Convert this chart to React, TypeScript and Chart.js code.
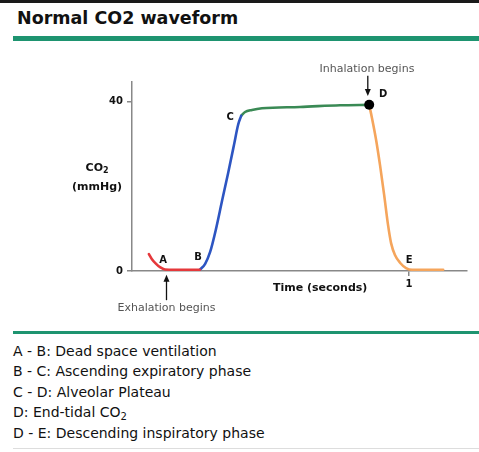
import React, { useEffect, useRef } from "react";
import { Chart, registerables } from "chart.js";

Chart.register(...registerables);

// time (s) and CO2 (mmHg), one pair of arrays per coloured phase
const deadSpaceTime = [0.061, 0.072, 0.087, 0.101, 0.119, 0.155, 0.245];
const deadSpaceCo2 = [4.0, 2.8, 1.7, 0.9, 0.35, 0.3, 0.3];

const expiratoryTime = [0.245, 0.264, 0.282, 0.303, 0.325, 0.347, 0.368, 0.383, 0.394];
const expiratoryCo2 = [0.3, 1.7, 4.5, 9.9, 16.6, 23.2, 29.8, 34.6, 36.7];

const plateauTime = [0.394, 0.408, 0.433, 0.469, 0.606, 0.751, 0.856];
const plateauCo2 = [36.7, 37.6, 38.1, 38.5, 38.8, 39.2, 39.3];

const inspiratoryTime = [0.856, 0.866, 0.881, 0.895, 0.91, 0.924, 0.935, 0.949, 0.968, 0.989, 1.011, 1.123];
const inspiratoryCo2 = [39.3, 36.2, 31.0, 25.1, 18.0, 10.9, 6.6, 3.8, 1.9, 0.7, 0.3, 0.3];

const endTidalTime = [0.856];
const endTidalCo2 = [39.3];

const yTickValues = [0, 40];
const xTickValues = [1];

const pointLetters = ["A", "B", "C", "D", "E"];
const letterTime = [0.112, 0.238, 0.354, 0.906, 1.0];
const letterCo2 = [2.6, 3.1, 36.4, 41.7, 2.4];

const legendLines = [
  "A - B: Dead space ventilation",
  "B - C: Ascending expiratory phase",
  "C - D: Alveolar Plateau",
  "D: End-tidal CO2",
  "D - E: Descending inspiratory phase",
];

const FONT = "'DejaVu Sans', Verdana, sans-serif";
const GREEN_BAR = "#1e9470";

const toPoints = (xs: number[], ys: number[]) => xs.map((x, i) => ({ x, y: ys[i] }));

const phase = (xs: number[], ys: number[], color: string) => ({
  data: toPoints(xs, ys),
  borderColor: color,
  borderWidth: 2.6,
  borderCapStyle: "round" as const,
  pointRadius: 0,
  cubicInterpolationMode: "monotone" as const,
  fill: false,
});

function arrow(ctx: CanvasRenderingContext2D, x: number, y0: number, y1: number) {
  const dir = y1 > y0 ? 1 : -1;
  ctx.beginPath();
  ctx.moveTo(x, y0);
  ctx.lineTo(x, y1 - dir * 5);
  ctx.stroke();
  ctx.beginPath();
  ctx.moveTo(x, y1);
  ctx.lineTo(x - 3, y1 - dir * 7);
  ctx.lineTo(x + 3, y1 - dir * 7);
  ctx.closePath();
  ctx.fill();
}

const waveformNotes = {
  id: "waveformNotes",
  afterDraw(chart: any) {
    const { ctx } = chart;
    const sx = chart.scales.x;
    const sy = chart.scales.y;
    const px = (t: number) => sx.getPixelForValue(t);
    const py = (v: number) => sy.getPixelForValue(v);
    ctx.save();
    ctx.textAlign = "center";
    ctx.textBaseline = "middle";
    ctx.fillStyle = "#111";
    ctx.font = "bold 10px " + FONT;
    pointLetters.forEach((l, i) => ctx.fillText(l, px(letterTime[i]), py(letterCo2[i])));
    ctx.font = "bold 11px " + FONT;
    ctx.fillText("Time (seconds)", px(0.679), py(-4.0));

    // y axis title, CO2 with a subscript
    const cx = px(-0.126);
    const wCO = ctx.measureText("CO").width;
    ctx.font = "bold 8px " + FONT;
    const w2 = ctx.measureText("2").width;
    ctx.textAlign = "left";
    ctx.font = "bold 11px " + FONT;
    const startX = cx - (wCO + w2) / 2;
    ctx.fillText("CO", startX, py(24.4));
    ctx.font = "bold 8px " + FONT;
    ctx.fillText("2", startX + wCO, py(24.4) + 3);
    ctx.textAlign = "center";
    ctx.font = "bold 11px " + FONT;
    ctx.fillText("(mmHg)", cx, py(19.9));

    ctx.font = "11px " + FONT;
    ctx.fillStyle = "#555";
    ctx.fillText("Inhalation begins", px(0.848), py(47.8));
    ctx.fillText("Exhalation begins", px(0.1245), py(-8.8));

    ctx.strokeStyle = "#111";
    ctx.fillStyle = "#111";
    ctx.lineWidth = 1.3;
    arrow(ctx, px(0.851), py(46.2), py(41.4));
    arrow(ctx, px(0.1245), py(-6.9), py(-0.9));
    ctx.restore();
  },
};

const CapnogramChart: React.FC = () => {
  const canvasRef = useRef<HTMLCanvasElement>(null);

  useEffect(() => {
    if (!canvasRef.current) return;
    const chart = new Chart(canvasRef.current, {
      type: "line",
      data: {
        datasets: [
          {
            data: toPoints(endTidalTime, endTidalCo2),
            showLine: false,
            pointRadius: 5,
            pointBackgroundColor: "#000",
            pointBorderWidth: 0,
          },
          phase(deadSpaceTime, deadSpaceCo2, "#e5383b"),
          phase(expiratoryTime, expiratoryCo2, "#2d55c2"),
          phase(plateauTime, plateauCo2, "#3a8a55"),
          phase(inspiratoryTime, inspiratoryCo2, "#f5a55c"),
        ] as any,
      },
      options: {
        animation: false,
        responsive: false,
        maintainAspectRatio: false,
        layout: { padding: { left: 0, top: 32, right: 12, bottom: 19 } },
        plugins: { legend: { display: false }, tooltip: { enabled: false } },
        scales: {
          x: {
            type: "linear",
            min: 0,
            max: 1.209,
            afterBuildTicks: (s: any) => {
              s.ticks = xTickValues.map((value) => ({ value }));
            },
            afterFit: (s: any) => {
              s.height = 30;
            },
            grid: { drawOnChartArea: false, tickLength: 5, color: "#888", lineWidth: 1.5 },
            border: { color: "#888", width: 1.5 },
            ticks: { color: "#111", padding: 2, font: { family: FONT, size: 10, weight: "bold" } },
          },
          y: {
            type: "linear",
            min: 0,
            max: 44.7,
            afterBuildTicks: (s: any) => {
              s.ticks = yTickValues.map((value) => ({ value }));
            },
            afterFit: (s: any) => {
              s.width = 132;
            },
            grid: { drawOnChartArea: false, tickLength: 5, color: "#888", lineWidth: 1.5 },
            border: { color: "#888", width: 1.5 },
            ticks: { color: "#111", padding: 4, font: { family: FONT, size: 10, weight: "bold" } },
          },
        },
      },
      plugins: [waveformNotes],
    });
    return () => {
      chart.destroy();
    };
  }, []);

  return (
    <canvas
      ref={canvasRef}
      width={479}
      height={270}
      style={{ position: "absolute", left: 0, top: 50, width: 479, height: 270 }}
    />
  );
};

export default function App() {
  return (
    <div
      style={{
        position: "absolute",
        left: 0,
        top: 0,
        width: 479,
        height: 452,
        overflow: "hidden",
        background: "#fff",
        fontFamily: FONT,
        color: "#111",
      }}
    >
      <div style={{ position: "absolute", left: 0, top: 0, width: 479, height: 3, background: "#1a1a1a" }} />
      <div style={{ position: "absolute", left: 17, top: 7, fontSize: 17.5, lineHeight: "22px", fontWeight: "bold" }}>
        Normal CO2 waveform
      </div>
      <div style={{ position: "absolute", left: 13, top: 36, right: 0, height: 5, background: GREEN_BAR }} />
      <CapnogramChart />
      <div style={{ position: "absolute", left: 13, top: 331, right: 0, height: 3, background: GREEN_BAR }} />
      <div style={{ position: "absolute", left: 13, top: 341, fontSize: 14, lineHeight: "20.4px" }}>
        {legendLines.map((line) =>
          line.endsWith("CO2") ? (
            <div key={line}>
              {line.slice(0, -1)}
              <sub style={{ fontSize: "0.72em", lineHeight: 0, verticalAlign: "-0.3em" }}>2</sub>
            </div>
          ) : (
            <div key={line}>{line}</div>
          )
        )}
      </div>
      <div style={{ position: "absolute", left: 13, top: 448, right: 0, height: 1, background: "#ddd" }} />
    </div>
  );
}
